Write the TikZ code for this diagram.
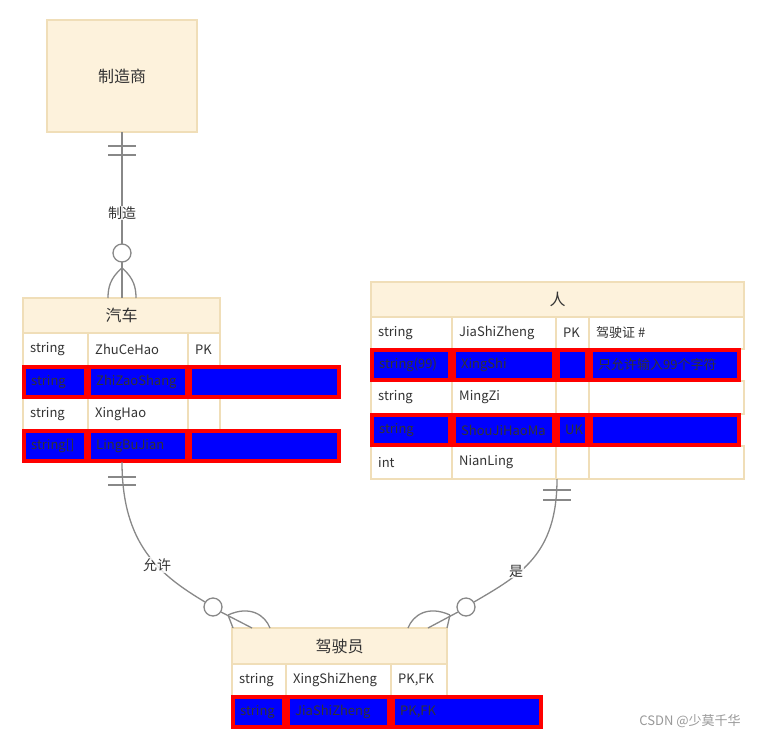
\documentclass[tikz,border=0pt]{standalone}
\usepackage{fontspec}
\setmainfont{Noto Sans CJK SC}
\begin{document}
\begin{tikzpicture}[x=1pt,y=-1pt,
  hdr/.style={fill=hdrfill,draw=bord,line width=1.2pt},
  plain/.style={fill=white,draw=bord,line width=1.2pt},
  hot/.style={fill=blue,draw=red,line width=3.5pt},
  txt/.style={font=\fontsize{13}{15}\selectfont,text=txtc,inner sep=0pt},
  conn/.style={draw=linec,line width=1.3pt},
  lbl/.style={font=\fontsize{14}{16}\selectfont,text=txtc,fill=white,fill opacity=0.8,text opacity=1,inner sep=1pt}]
\definecolor{hdrfill}{HTML}{FDF2DC}
\definecolor{bord}{HTML}{F0DEB8}
\definecolor{txtc}{HTML}{333333}
\definecolor{linec}{HTML}{888888}
\newcommand\ercell[7]{\path[#7] (#2,#3) rectangle (#4,#5);
  \node[txt,anchor=west] (#1) at ({#2+7},{(#3+#5)/2}) {#6};}
\newcommand\erhead[6]{\path[hdr] (#2,#3) rectangle (#4,#5);
  \node[font=\fontsize{16}{18}\selectfont,text=txtc] (#1) at ({(#2+#4)/2},{(#3+#5)/2}) {#6};}
\fill[white] (0,0) rectangle (758,740);
% entity 制造商
\erhead{mfr}{47}{20}{197}{132}{制造商}
% 汽车
\erhead{car}{23}{298}{220}{333}{汽车}
\ercell{c11}{23}{333}{88}{366}{string}{plain}
\ercell{c12}{88}{333}{188}{366}{ZhuCeHao}{plain}
\ercell{c13}{188}{333}{220}{366}{PK}{plain}
\ercell{c31}{23}{398}{88}{430}{string}{plain}
\ercell{c32}{88}{398}{188}{430}{XingHao}{plain}
\ercell{c33}{188}{398}{220}{430}{}{plain}
\ercell{c21}{24}{367}{86}{397}{string}{hot}
\ercell{c22}{89}{367}{187}{397}{ZhiZaoShang}{hot}
\ercell{c23}{190}{367}{339}{397}{}{hot}
\ercell{c41}{24}{431}{86}{461}{string[]}{hot}
\ercell{c42}{89}{431}{187}{461}{LingBuJian}{hot}
\ercell{c43}{190}{431}{339}{461}{}{hot}
% 人
\erhead{per}{371}{282}{744}{317}{人}
\ercell{p11}{371}{317}{452}{349}{string}{plain}
\ercell{p12}{452}{317}{556}{349}{JiaShiZheng}{plain}
\ercell{p13}{556}{317}{589}{349}{PK}{plain}
\ercell{p14}{589}{317}{744}{349}{驾驶证 \#}{plain}
\ercell{p31}{371}{381}{452}{414}{string}{plain}
\ercell{p32}{452}{381}{556}{414}{MingZi}{plain}
\ercell{p33}{556}{381}{589}{414}{}{plain}
\ercell{p34}{589}{381}{744}{414}{}{plain}
\ercell{p51}{371}{446}{452}{479}{int}{plain}
\ercell{p52}{452}{446}{556}{479}{NianLing}{plain}
\ercell{p53}{556}{446}{589}{479}{}{plain}
\ercell{p54}{589}{446}{744}{479}{}{plain}
\ercell{p21}{372}{350}{450}{380}{string(99)}{hot}
\ercell{p22}{454}{350}{554}{380}{XingShi}{hot}
\ercell{p23}{558}{350}{587}{380}{}{hot}
\ercell{p24}{591}{350}{739}{380}{只允许输入99个字符}{hot}
\ercell{p41}{372}{415}{450}{445}{string}{hot}
\ercell{p42}{454}{415}{554}{445}{ShouJiHaoMa}{hot}
\ercell{p43}{558}{415}{587}{445}{UK}{hot}
\ercell{p44}{591}{415}{739}{445}{}{hot}
% 驾驶员
\erhead{drv}{232}{628}{447}{664}{驾驶员}
\ercell{d11}{232}{664}{286}{696}{string}{plain}
\ercell{d12}{286}{664}{391}{696}{XingShiZheng}{plain}
\ercell{d13}{391}{664}{447}{696}{PK,FK}{plain}
\ercell{d21}{233}{697}{284}{727}{string}{hot}
\ercell{d22}{288}{697}{389}{727}{JiaShiZheng}{hot}
\ercell{d23}{393}{697}{541}{727}{PK,FK}{hot}
% connectors
\coordinate (mb) at (122,132);
\coordinate (ct) at (122,298);
\coordinate (cb) at (122,462);
\coordinate (pb) at (557,479);
\coordinate (dl) at (252,628);
\coordinate (dr) at (428,628);
\coordinate (o1) at (122,253);
\coordinate (o2) at (213,607);
\coordinate (o3) at (466,607);
\draw[conn] (mb) -- (122,244) (122,262) -- (ct);
\draw[conn] (108,146) -- (136,146) (108,155) -- (136,155);
\draw[conn] (o1) circle (9);
\draw[conn] (122,268) .. controls (110,278) and (108,288) .. (108,298);
\draw[conn] (122,268) .. controls (134,278) and (136,288) .. (136,298);
\node[lbl] (l1) at (122,213) {制造};
\draw[conn] (cb) .. controls (122,545) and (160,575) .. (205,602);
\draw[conn] (221,612) -- (dl);
\draw[conn] (108,477) -- (136,477) (108,485) -- (136,485);
\draw[conn] (o2) circle (9);
\draw[conn] (228,615) .. controls (250,605) and (265,615) .. (270,628);
\draw[conn] (228,615) -- (233,628);
\node[lbl] (l2) at (157,565) {允许};
\draw[conn] (pb) .. controls (557,555) and (520,575) .. (474,602);
\draw[conn] (458,612) -- (dr);
\draw[conn] (543,490) -- (571,490) (543,500) -- (571,500);
\draw[conn] (o3) circle (9);
\draw[conn] (450,615) .. controls (428,605) and (413,615) .. (408,628);
\draw[conn] (450,615) -- (447,628);
\node[lbl] (l3) at (516,571) {是};
\node[font=\fontsize{13}{15}\selectfont,text=gray!80] (wm) at (690,721) {CSDN @少莫千华};
\end{tikzpicture}
\end{document}
